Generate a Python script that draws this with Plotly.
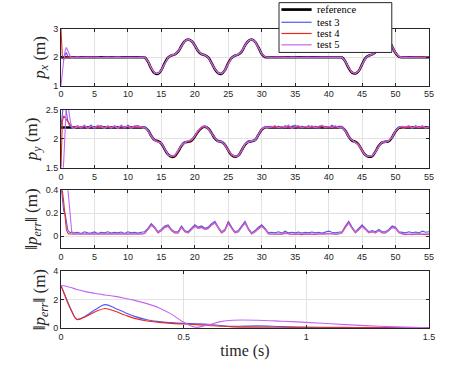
import numpy as np
import plotly.graph_objects as go
from plotly.subplots import make_subplots

# ---------------- time grids ----------------
T_START = [0, 0.2, 0.4, 0.6, 0.8, 1.0, 1.2, 1.4, 1.6, 1.8]
T_MAIN = list(np.arange(2.0, 55.01, 0.5))
T = T_START + T_MAIN
T4 = [0, 0.02, 0.04, 0.065, 0.1, 0.14, 0.18, 0.22, 0.26, 0.3, 0.35, 0.4, 0.45,
      0.5, 0.55, 0.6, 0.65, 0.7, 0.8, 0.9, 1.0, 1.1, 1.2, 1.3, 1.4, 1.5]

# ---------------- p_x ----------------
PX_REF = [2.0]*10 + [2.0]*10 + [2.0]*10 + \
    [2.0, 2.0, 1.85, 1.6, 1.44, 1.42, 1.55, 1.8, 1.99, 2.07] + \
    [2.1, 2.2, 2.4, 2.57, 2.63, 2.58, 2.42, 2.22, 2.11, 2.08] + \
    [2.0, 1.8, 1.58, 1.44, 1.42, 1.55, 1.8, 1.98, 2.06, 2.1] + \
    [2.2, 2.42, 2.58, 2.63, 2.55, 2.35, 2.12, 2.01, 2.0, 2.0] + \
    [2.0]*10 + [2.0]*10 + \
    [2.0, 1.85, 1.62, 1.46, 1.43, 1.52, 1.75, 1.97, 2.06, 2.1] + \
    [2.18, 2.38, 2.56, 2.63, 2.56, 2.38, 2.15, 2.02, 2.0, 2.0] + \
    [2.0]*7

PX_T3 = [2.0, 1.95, 1.92, 2.08, 2.17, 2.05, 1.97, 2.02, 2.0, 2.01,
         2.0, 2.01, 1.99, 2.0, 2.01, 1.99, 2.0, 2.01, 1.99, 2.0,
         2.01, 1.99, 2.0, 2.02, 2.0, 1.99, 2.01, 2.0, 2.0, 1.99,
         2.01, 2.0, 1.86, 1.61, 1.45, 1.43, 1.56, 1.8, 1.98, 2.06,
         2.1, 2.19, 2.39, 2.56, 2.62, 2.57, 2.41, 2.22, 2.11, 2.07,
         1.99, 1.79, 1.58, 1.45, 1.43, 1.56, 1.8, 1.97, 2.05, 2.09,
         2.19, 2.41, 2.57, 2.62, 2.54, 2.34, 2.12, 2.01, 2.0, 2.01,
         1.99, 2.0, 2.01, 2.0, 1.99, 2.01, 2.0, 2.0, 2.01, 1.99,
         2.0, 2.01, 1.99, 2.0, 2.01, 2.0, 1.99, 2.01, 2.0, 2.0,
         2.01, 1.86, 1.63, 1.47, 1.44, 1.53, 1.75, 1.96, 2.05, 2.09,
         2.17, 2.37, 2.55, 2.62, 2.55, 2.37, 2.15, 2.02, 2.0, 2.01,
         1.99, 2.0, 2.01, 2.0, 1.99, 2.01, 2.0]

PX_T4 = [3.0, 2.05, 1.98, 2.01, 2.0, 2.0, 2.0, 2.0, 2.0, 2.0,
         2.0, 2.0, 2.01, 2.0, 2.0, 1.99, 2.0, 2.0, 2.0, 2.01,
         2.0, 2.0, 1.99, 2.0, 2.0, 2.01, 2.0, 2.0, 2.0, 2.0,
         2.0, 2.0, 1.85, 1.6, 1.44, 1.42, 1.55, 1.8, 1.99, 2.07,
         2.1, 2.2, 2.4, 2.57, 2.63, 2.58, 2.42, 2.22, 2.11, 2.08,
         2.0, 1.8, 1.58, 1.44, 1.42, 1.55, 1.8, 1.98, 2.06, 2.1,
         2.2, 2.42, 2.58, 2.63, 2.55, 2.35, 2.12, 2.01, 2.0, 2.0,
         2.0, 2.0, 2.0, 2.01, 2.0, 2.0, 1.99, 2.0, 2.0, 2.0,
         2.0, 2.0, 2.0, 2.0, 2.01, 2.0, 2.0, 2.0, 1.99, 2.0,
         2.0, 1.85, 1.62, 1.46, 1.43, 1.52, 1.75, 1.97, 2.06, 2.1,
         2.18, 2.38, 2.56, 2.63, 2.56, 2.38, 2.15, 2.02, 2.0, 2.0,
         2.0, 2.0, 2.0, 2.0, 2.0, 2.0, 2.0]

PX_T5 = [1.0, 1.5, 1.9, 2.2, 2.35, 2.25, 2.1, 2.02, 1.99, 2.0,
         2.0, 2.01, 2.0, 1.99, 2.0, 2.01, 2.0, 2.0, 1.99, 2.0,
         2.0, 2.01, 2.0, 2.0, 2.02, 2.0, 1.99, 2.0, 2.01, 2.0,
         2.0, 2.01, 1.87, 1.62, 1.45, 1.42, 1.54, 1.79, 1.99, 2.08,
         2.11, 2.21, 2.41, 2.58, 2.64, 2.59, 2.43, 2.23, 2.12, 2.08,
         2.0, 1.81, 1.59, 1.45, 1.42, 1.54, 1.79, 1.98, 2.07, 2.11,
         2.21, 2.43, 2.59, 2.64, 2.56, 2.36, 2.13, 2.02, 2.0, 2.0,
         2.01, 2.0, 1.99, 2.0, 2.0, 2.01, 2.0, 1.99, 2.0, 2.0,
         2.0, 1.99, 2.0, 2.01, 2.0, 2.0, 2.01, 2.0, 2.0, 1.99,
         2.0, 1.86, 1.63, 1.47, 1.43, 1.51, 1.74, 1.96, 2.07, 2.11,
         2.19, 2.39, 2.57, 2.64, 2.57, 2.39, 2.16, 2.03, 2.0, 2.0,
         2.0, 2.01, 2.0, 1.99, 2.0, 2.0, 2.01]

# ---------------- p_y ----------------
PY_REF = [2.2]*10 + [2.2]*10 + [2.2]*10 + \
    [2.2, 2.2, 2.15, 2.05, 1.98, 1.96, 1.92, 1.82, 1.73, 1.69] + \
    [1.7, 1.78, 1.88, 1.94, 1.95, 1.97, 2.04, 2.13, 2.19, 2.21] + \
    [2.18, 2.1, 2.01, 1.96, 1.95, 1.9, 1.8, 1.72, 1.69, 1.71] + \
    [1.8, 1.9, 1.95, 1.96, 1.98, 2.07, 2.16, 2.2, 2.2, 2.2] + \
    [2.2]*10 + [2.2]*10 + \
    [2.2, 2.14, 2.04, 1.97, 1.95, 1.9, 1.8, 1.72, 1.69, 1.7] + \
    [1.78, 1.88, 1.94, 1.95, 1.96, 2.03, 2.13, 2.19, 2.2, 2.2] + \
    [2.2]*7

PY_T3 = [2.2, 2.45, 2.65, 2.62, 2.45, 2.32, 2.25, 2.21, 2.19, 2.21,
         2.2, 2.23, 2.18, 2.22, 2.19, 2.24, 2.18, 2.21, 2.23, 2.19,
         2.22, 2.18, 2.23, 2.2, 2.22, 2.18, 2.24, 2.19, 2.22, 2.23,
         2.2, 2.21, 2.16, 2.06, 1.99, 1.95, 1.93, 1.83, 1.74, 1.7,
         1.71, 1.79, 1.9, 1.95, 1.96, 1.99, 2.05, 2.14, 2.2, 2.22,
         2.19, 2.11, 2.02, 1.97, 1.94, 1.91, 1.81, 1.73, 1.7, 1.72,
         1.81, 1.91, 1.97, 1.95, 1.99, 2.08, 2.17, 2.22, 2.21, 2.22,
         2.19, 2.22, 2.18, 2.23, 2.2, 2.22, 2.24, 2.18, 2.22, 2.2,
         2.23, 2.19, 2.22, 2.18, 2.23, 2.21, 2.19, 2.24, 2.2, 2.22,
         2.22, 2.15, 2.05, 1.98, 1.94, 1.91, 1.81, 1.73, 1.7, 1.71,
         1.79, 1.89, 1.95, 1.96, 1.97, 2.04, 2.14, 2.21, 2.22, 2.2,
         2.22, 2.18, 2.23, 2.2, 2.22, 2.18, 2.21]

PY_T4 = [1.5, 2.3, 2.4, 2.37, 2.33, 2.29, 2.26, 2.23, 2.21, 2.2,
         2.2, 2.21, 2.2, 2.19, 2.2, 2.21, 2.2, 2.2, 2.19, 2.2,
         2.2, 2.21, 2.2, 2.2, 2.19, 2.2, 2.21, 2.2, 2.2, 2.2,
         2.2, 2.2, 2.15, 2.05, 1.98, 1.96, 1.92, 1.82, 1.73, 1.69,
         1.7, 1.78, 1.88, 1.94, 1.95, 1.97, 2.04, 2.13, 2.19, 2.21,
         2.18, 2.1, 2.01, 1.96, 1.95, 1.9, 1.8, 1.72, 1.69, 1.71,
         1.8, 1.9, 1.95, 1.96, 1.98, 2.07, 2.16, 2.2, 2.2, 2.2,
         2.2, 2.2, 2.21, 2.2, 2.2, 2.19, 2.2, 2.2, 2.21, 2.2,
         2.2, 2.19, 2.2, 2.2, 2.21, 2.2, 2.2, 2.2, 2.19, 2.2,
         2.2, 2.14, 2.04, 1.97, 1.95, 1.9, 1.8, 1.72, 1.69, 1.7,
         1.78, 1.88, 1.94, 1.95, 1.96, 2.03, 2.13, 2.19, 2.2, 2.2,
         2.2, 2.2, 2.21, 2.2, 2.2, 2.19, 2.2]

PY_T5 = [1.45, 1.3, 1.6, 2.2, 2.6, 2.62, 2.45, 2.3, 2.22, 2.18,
         2.18, 2.22, 2.2, 2.24, 2.18, 2.22, 2.19, 2.24, 2.21, 2.18,
         2.23, 2.19, 2.22, 2.18, 2.24, 2.2, 2.22, 2.18, 2.23, 2.21,
         2.21, 2.2, 2.14, 2.04, 1.97, 1.94, 1.93, 1.81, 1.72, 1.7,
         1.72, 1.8, 1.89, 1.93, 1.97, 1.98, 2.05, 2.15, 2.21, 2.23,
         2.17, 2.09, 2.02, 1.95, 1.96, 1.89, 1.79, 1.73, 1.7, 1.7,
         1.79, 1.92, 1.94, 1.97, 1.97, 2.06, 2.17, 2.21, 2.19, 2.21,
         2.23, 2.19, 2.22, 2.2, 2.24, 2.18, 2.22, 2.23, 2.19, 2.22,
         2.2, 2.23, 2.19, 2.22, 2.24, 2.19, 2.22, 2.2, 2.23, 2.19,
         2.21, 2.13, 2.03, 1.98, 1.94, 1.89, 1.79, 1.71, 1.7, 1.71,
         1.77, 1.87, 1.95, 1.94, 1.97, 2.02, 2.14, 2.2, 2.22, 2.21,
         2.23, 2.19, 2.22, 2.2, 2.23, 2.19, 2.21]

# ---------------- ||p_err|| (0-55 s) ----------------
ERR_T3 = [0.45, 0.3, 0.22, 0.2, 0.12, 0.06, 0.04, 0.03, 0.04, 0.03,
          0.03, 0.035, 0.025, 0.04, 0.03, 0.028, 0.038, 0.025, 0.035, 0.03,
          0.04, 0.028, 0.035, 0.03, 0.038, 0.025, 0.04, 0.03, 0.035, 0.028,
          0.035, 0.04, 0.07, 0.11, 0.08, 0.04, 0.06, 0.09, 0.1, 0.06,
          0.04, 0.04, 0.09, 0.05, 0.04, 0.07, 0.1, 0.08, 0.09, 0.07,
          0.08, 0.11, 0.13, 0.08, 0.04, 0.06, 0.13, 0.08, 0.04, 0.05,
          0.09, 0.13, 0.07, 0.03, 0.05, 0.08, 0.1, 0.07, 0.03, 0.035,
          0.03, 0.04, 0.028, 0.045, 0.03, 0.035, 0.03, 0.038, 0.028, 0.035,
          0.03, 0.038, 0.03, 0.035, 0.028, 0.04, 0.045, 0.035, 0.03, 0.035,
          0.04, 0.09, 0.13, 0.08, 0.04, 0.07, 0.1, 0.07, 0.04, 0.05,
          0.04, 0.06, 0.04, 0.04, 0.06, 0.09, 0.08, 0.04, 0.035, 0.03,
          0.04, 0.03, 0.038, 0.03, 0.045, 0.035, 0.04]

ERR_T4 = [0.45, 0.4, 0.3, 0.15, 0.06, 0.03, 0.02, 0.02, 0.02, 0.015,
          0.02, 0.015, 0.02, 0.018, 0.015, 0.02, 0.017, 0.015, 0.02, 0.016,
          0.018, 0.015, 0.02, 0.017, 0.02, 0.018, 0.016, 0.02, 0.015, 0.018,
          0.02, 0.025, 0.06, 0.1, 0.07, 0.03, 0.05, 0.08, 0.09, 0.05,
          0.03, 0.03, 0.08, 0.04, 0.03, 0.06, 0.09, 0.07, 0.08, 0.06,
          0.07, 0.1, 0.12, 0.07, 0.03, 0.05, 0.12, 0.07, 0.03, 0.04,
          0.08, 0.12, 0.06, 0.02, 0.04, 0.07, 0.09, 0.06, 0.02, 0.02,
          0.015, 0.02, 0.018, 0.03, 0.02, 0.016, 0.02, 0.018, 0.015, 0.02,
          0.018, 0.02, 0.016, 0.02, 0.018, 0.02, 0.025, 0.02, 0.018, 0.02,
          0.03, 0.08, 0.12, 0.07, 0.03, 0.06, 0.09, 0.06, 0.03, 0.04,
          0.03, 0.05, 0.03, 0.03, 0.05, 0.08, 0.07, 0.03, 0.02, 0.015,
          0.018, 0.015, 0.02, 0.016, 0.018, 0.015, 0.02]

ERR_T5 = [0.6, 0.6, 0.6, 0.55, 0.5, 0.42, 0.3, 0.12, 0.04, 0.02,
          0.02, 0.018, 0.022, 0.02, 0.017, 0.022, 0.02, 0.018, 0.02, 0.019,
          0.02, 0.017, 0.02, 0.022, 0.018, 0.02, 0.018, 0.021, 0.017, 0.02,
          0.02, 0.024, 0.055, 0.095, 0.075, 0.035, 0.05, 0.075, 0.085, 0.055,
          0.035, 0.03, 0.075, 0.045, 0.03, 0.055, 0.085, 0.07, 0.075, 0.06,
          0.065, 0.095, 0.115, 0.075, 0.035, 0.05, 0.11, 0.07, 0.035, 0.04,
          0.075, 0.115, 0.065, 0.025, 0.04, 0.065, 0.085, 0.06, 0.025, 0.02,
          0.018, 0.02, 0.02, 0.025, 0.02, 0.018, 0.02, 0.02, 0.017, 0.02,
          0.02, 0.018, 0.02, 0.022, 0.02, 0.02, 0.024, 0.02, 0.02, 0.022,
          0.03, 0.075, 0.115, 0.07, 0.035, 0.055, 0.085, 0.06, 0.035, 0.04,
          0.03, 0.05, 0.035, 0.03, 0.05, 0.075, 0.07, 0.035, 0.02, 0.018,
          0.02, 0.018, 0.02, 0.02, 0.018, 0.02, 0.02]

# ---------------- ||p_err|| (0-1.5 s) ----------------
E4_T3 = [3.0, 2.15, 1.35, 0.62, 0.85, 1.3, 1.65, 1.4, 1.1, 0.82, 0.58, 0.45, 0.38,
         0.33, 0.3, 0.26, 0.18, 0.12, 0.15, 0.1, 0.06, 0.05, 0.04, 0.04, 0.03, 0.02]
E4_T4 = [3.0, 2.1, 1.3, 0.6, 0.8, 1.15, 1.38, 1.18, 0.92, 0.68, 0.5, 0.4, 0.33,
         0.28, 0.24, 0.18, 0.12, 0.08, 0.06, 0.05, 0.04, 0.03, 0.03, 0.02, 0.02, 0.02]
E4_T5 = [3.0, 2.95, 2.86, 2.72, 2.57, 2.44, 2.33, 2.23, 2.1, 1.95, 1.72, 1.42, 0.98,
         0.4, 0.05, 0.22, 0.45, 0.55, 0.55, 0.48, 0.4, 0.3, 0.2, 0.12, 0.06, 0.02]

NAMES = ["reference", "test 3", "test 4", "test 5"]
COLORS = ["#000000", "#4b5cf2", "#ea2a22", "#c466f2"]
WIDTHS = [2.5, 1.1, 1.1, 1.1]

fig = make_subplots(rows=4, cols=1)

def add(row, x, ys, idxs, shape_tests="linear"):
    for y, i in zip(ys, idxs):
        shape = "spline" if i == 0 else shape_tests
        fig.add_trace(go.Scatter(x=x, y=y, mode="lines", name=NAMES[i],
                                 line=dict(color=COLORS[i], width=WIDTHS[i], shape=shape),
                                 showlegend=False),
                      row=row, col=1)

add(1, T, [PX_REF, PX_T3, PX_T4, PX_T5], [0, 1, 2, 3])
add(2, T, [PY_REF, PY_T3, PY_T4, PY_T5], [0, 1, 2, 3])
add(3, T, [ERR_T3, ERR_T4, ERR_T5], [1, 2, 3])
add(4, T4, [E4_T3, E4_T4, E4_T5], [1, 2, 3], shape_tests="spline")

axcommon = dict(showline=True, linecolor="#262626", linewidth=1, mirror="ticks",
                ticks="inside", ticklen=3, tickcolor="#262626",
                showgrid=True, gridcolor="#e2e2e2", gridwidth=1, zeroline=False,
                tickfont=dict(family="Liberation Sans", size=9, color="#262626"))

domains = [[0.8105, 1.0], [0.536, 0.7288], [0.268, 0.4608], [0.0, 0.1895]]
yranges = [[1, 3], [1.5, 2.5], [-0.1, 0.4], [0, 4]]
yticks = [[1, 2, 3], [1.5, 2, 2.5], [0, 0.2, 0.4], [0, 2, 4]]
ytitles = ["<i>p<sub>x</sub></i> (m)", "<i>p<sub>y</sub></i> (m)",
           "‖<i>p<sub>err</sub></i>‖ (m)", "‖<i>p<sub>err</sub></i>‖ (m)"]
titlefont = dict(family="Liberation Serif", size=17, color="#262626")

for r in range(4):
    yk = "yaxis" if r == 0 else f"yaxis{r+1}"
    xk = "xaxis" if r == 0 else f"xaxis{r+1}"
    fig.layout[yk].update(domain=domains[r], range=yranges[r], tickvals=yticks[r],
                          title=dict(text=ytitles[r], font=titlefont, standoff=3), **axcommon)
    if r < 3:
        fig.layout[xk].update(range=[0, 55], tickvals=list(range(0, 56, 5)), **axcommon)
    else:
        fig.layout[xk].update(range=[0, 1.5], tickvals=[0, 0.5, 1, 1.5],
                              ticktext=["0", "0.5", "1", "1.5"],
                              title=dict(text="time (s)", font=dict(family="Liberation Serif", size=16, color="#262626"), standoff=4),
                              **axcommon)

# ---------------- compact legend box (paper coords) ----------------
LEG_X0, LEG_X1 = 0.5924, 0.8989
LEG_Y0, LEG_Y1 = 0.9216, 1.0882
ROW_Y = [1.065, 1.0225, 0.985, 0.947]
shapes = [dict(type="rect", xref="paper", yref="paper", x0=LEG_X0, x1=LEG_X1,
               y0=LEG_Y0, y1=LEG_Y1, line=dict(color="#262626", width=1),
               fillcolor="white", layer="above")]
annotations = []
for i, name in enumerate(NAMES):
    shapes.append(dict(type="line", xref="paper", yref="paper", x0=0.599, x1=0.681,
                       y0=ROW_Y[i], y1=ROW_Y[i], layer="above",
                       line=dict(color=COLORS[i], width=WIDTHS[i] + (0.2 if i == 0 else 0.1))))
    annotations.append(dict(xref="paper", yref="paper", x=0.6905, y=ROW_Y[i],
                            xanchor="left", yanchor="middle", text=name, showarrow=False,
                            font=dict(family="Liberation Serif", size=10.5, color="#000000")))

fig.update_layout(
    width=474, height=369,
    margin=dict(l=61, r=45, t=29, b=34),
    paper_bgcolor="white", plot_bgcolor="white",
    showlegend=False,
    shapes=shapes, annotations=annotations,
)

# remove the browser's default 8 px body margin so the figure fills the window exactly
fig.write_html("out.html", config={"displayModeBar": False},
               post_script="document.body.style.margin='0';")
